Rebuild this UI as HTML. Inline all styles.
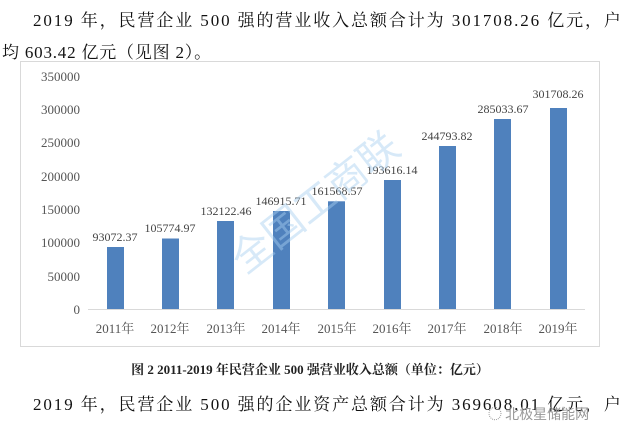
<!DOCTYPE html>
<html><head><meta charset="utf-8"><style>
body{margin:0;width:620px;height:442px;background:#fff;overflow:hidden;position:relative;font-family:"Liberation Serif","Noto Serif CJK SC",serif}
.t{position:absolute;font-size:17px;color:#111;white-space:nowrap}
</style></head><body>
<div class="t" style="left:33px;top:6px;letter-spacing:1.9px">2019 年，民营企业 500 强的营业收入总额合计为 301708.26 亿元，户</div>
<div class="t" style="left:2px;top:38px;letter-spacing:0.8px">均 603.42 亿元（见图 2）。</div>
<svg width="620" height="442" style="position:absolute;left:0;top:0" font-family="Liberation Serif, Noto Serif CJK SC, serif">
<rect x="20.5" y="61.5" width="579" height="285" fill="#fff" stroke="#d9d9d9"/>
<g font-size="13" fill="#555" text-anchor="end">
<text x="80" y="81">350000</text><text x="80" y="114">300000</text><text x="80" y="147">250000</text><text x="80" y="181">200000</text><text x="80" y="214">150000</text><text x="80" y="247">100000</text><text x="80" y="281">50000</text><text x="80" y="314">0</text>
</g>
<line x1="88" y1="309.5" x2="585" y2="309.5" stroke="#d9d9d9"/>
<g fill="#4f81bd">
<rect x="107" y="247" width="17" height="62"/>
<rect x="162" y="238.5" width="17" height="70.5"/>
<rect x="217" y="221" width="17" height="88"/>
<rect x="273" y="211" width="17" height="98"/>
<rect x="328" y="201.3" width="17" height="107.7"/>
<rect x="384" y="180" width="17" height="129"/>
<rect x="439" y="146" width="17" height="163"/>
<rect x="494" y="119" width="17" height="190"/>
<rect x="550" y="108" width="17" height="201"/>
</g>
<g font-size="12" fill="#444" text-anchor="middle">
<text x="115" y="241">93072.37</text><text x="170" y="232">105774.97</text><text x="226" y="215">132122.46</text><text x="281" y="205">146915.71</text><text x="337" y="195">161568.57</text><text x="392" y="174">193616.14</text><text x="447" y="140">244793.82</text><text x="503" y="113">285033.67</text><text x="558" y="98">301708.26</text>
</g>
<g font-size="13" fill="#555" text-anchor="middle">
<text x="115" y="333">2011年</text><text x="170" y="333">2012年</text><text x="226" y="333">2013年</text><text x="281" y="333">2014年</text><text x="337" y="333">2015年</text><text x="392" y="333">2016年</text><text x="447" y="333">2017年</text><text x="503" y="333">2018年</text><text x="558" y="333">2019年</text>
</g>
<text x="310" y="374" font-size="13" font-weight="bold" fill="#222" text-anchor="middle">图 2   2011-2019 年民营企业 500 强营业收入总额（单位：亿元）</text>
<text x="0" y="0" font-size="40" fill="#a8d0f0" opacity="0.45" transform="translate(245 275) rotate(-38)" font-family="Noto Sans CJK SC, sans-serif">全国工商联</text>
</svg>
<div class="t" style="left:33px;top:390px;letter-spacing:1.9px">2019 年，民营企业 500 强的企业资产总额合计为 369608.01 亿元，户</div>
<div style="position:absolute;left:488px;top:404px;font-size:14px;color:#999;font-family:'Noto Sans CJK SC',sans-serif">◌ 北极星储能网</div>
</body></html>
